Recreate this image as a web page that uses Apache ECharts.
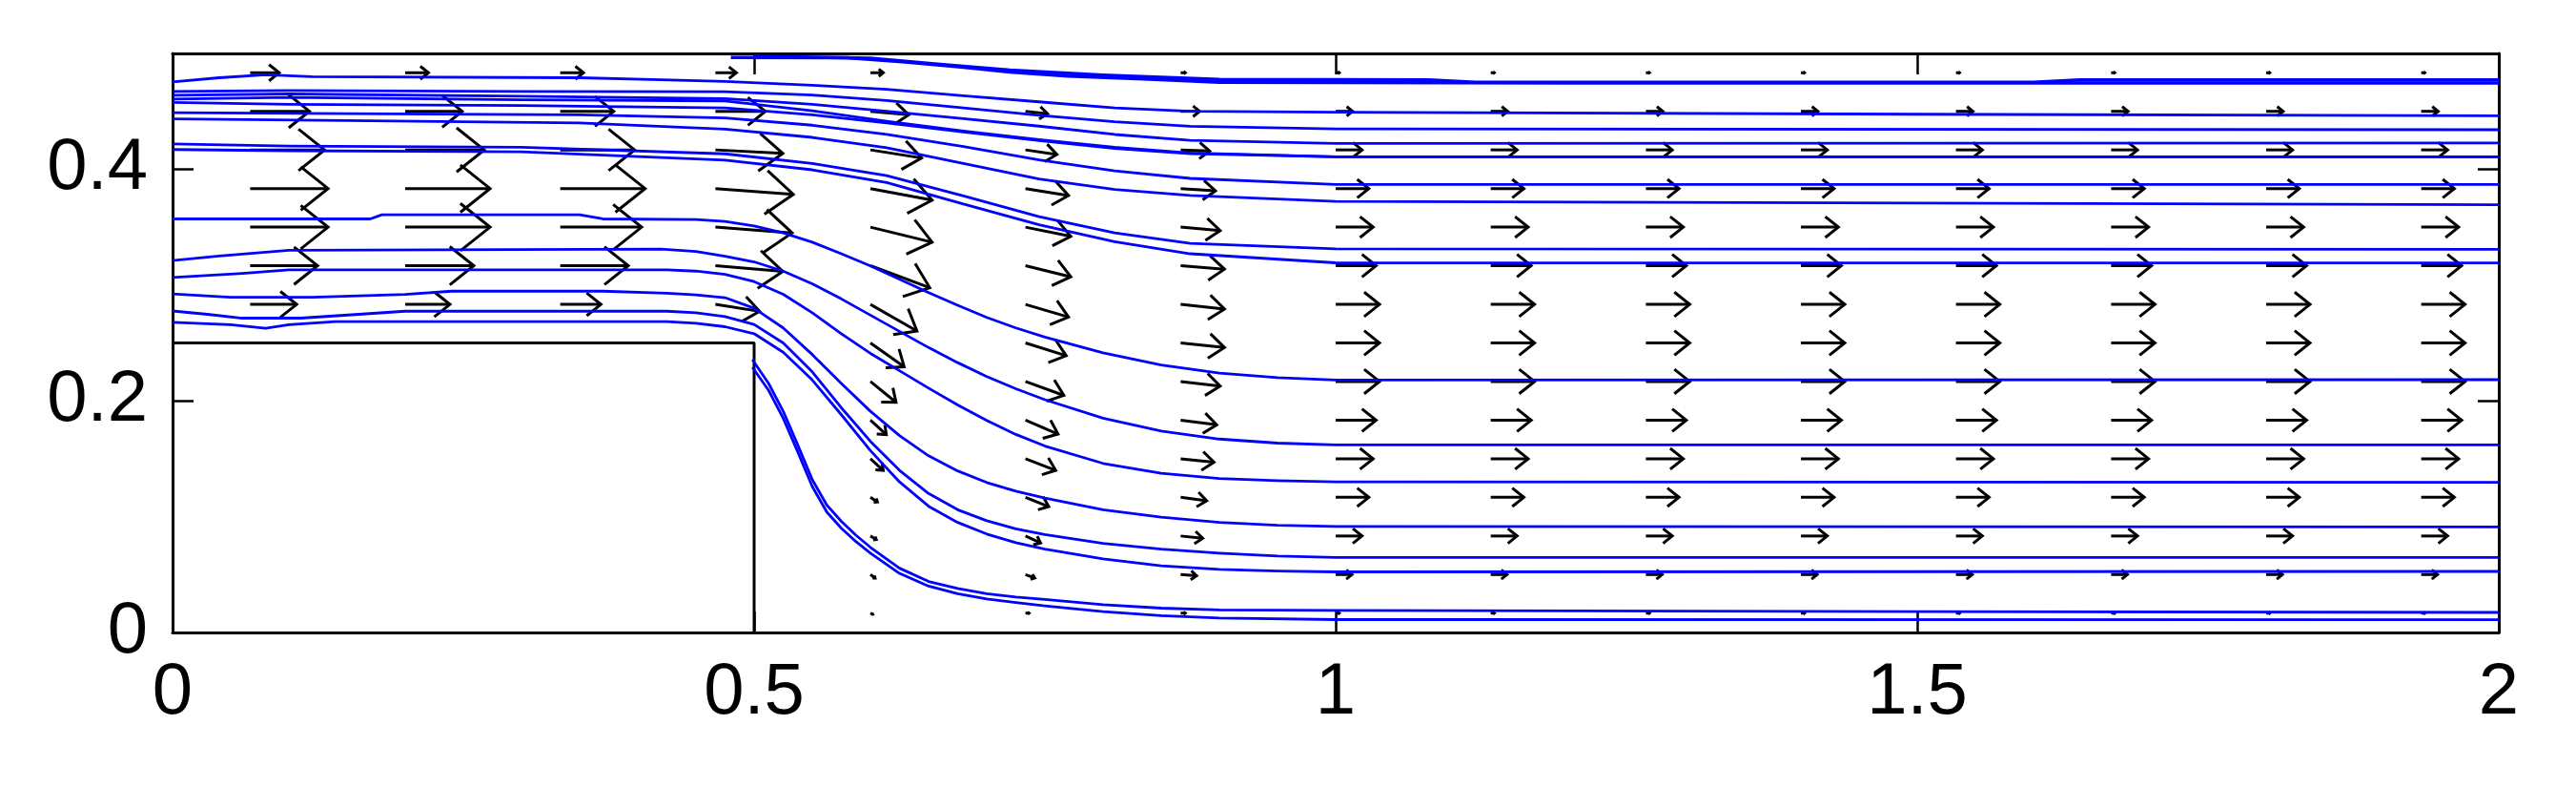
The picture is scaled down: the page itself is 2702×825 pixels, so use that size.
<!DOCTYPE html>
<html><head><meta charset="utf-8">
<script src="https://cdn.jsdelivr.net/npm/echarts@6/dist/echarts.min.js"></script>
<style>html,body{margin:0;padding:0;background:#fff}#c{width:2702px;height:825px}</style>
</head><body><div id="c"></div>
<script>
// ---- axis ticks ----
const xTicks = [0, 0.5, 1, 1.5, 2];
const yTicks = [0, 0.2, 0.4];

// ---- quiver grid ----
const xCols = [0.0667, 0.2, 0.3333, 0.4667, 0.6, 0.7333, 0.8667, 1.0, 1.1333, 1.2667, 1.4, 1.5333, 1.6667, 1.8, 1.9333];
const yRows = [0.0167, 0.05, 0.0833, 0.1167, 0.15, 0.1833, 0.2167, 0.25, 0.2833, 0.3167, 0.35, 0.3833, 0.4167, 0.45, 0.4833];
const N = null;
// u per column (bottom row -> top row)
const U = [
  [N,N,N,N,N,N,N,N, 0.040, 0.058, 0.067, 0.067, 0.064, 0.051, 0.025],
  [N,N,N,N,N,N,N,N, 0.0385, 0.059, 0.073, 0.073, 0.068, 0.049, 0.020],
  [N,N,N,N,N,N,N,N, 0.035, 0.0585, 0.070, 0.073, 0.064, 0.046, 0.020],
  [N,N,N,N,N,N,N,N, 0.038, 0.058, 0.066, 0.067, 0.058, 0.043, 0.018],
  [0.002, 0.004, 0.005, 0.006, 0.011, 0.0137, 0.022, 0.029, 0.040, 0.051, 0.053, 0.053, 0.044, 0.033, 0.011],
  [0.003, 0.008, 0.013, 0.020, 0.026, 0.028, 0.033, 0.035, 0.037, 0.039, 0.039, 0.037, 0.027, 0.019, 0.004],
  [0.004, 0.0137, 0.019, 0.0224, 0.0287, 0.031, 0.034, 0.0377, 0.0377, 0.0377, 0.034, 0.030, 0.025, 0.0164, 0.004],
  [0.003, 0.014, 0.0227, 0.0285, 0.0322, 0.0348, 0.0377, 0.0377, 0.0377, 0.0348, 0.0322, 0.0285, 0.0227, 0.0146, 0.003],
  [0.003, 0.014, 0.0227, 0.0285, 0.0322, 0.0348, 0.0377, 0.0377, 0.0377, 0.0348, 0.0322, 0.0285, 0.0227, 0.0146, 0.003],
  [0.003, 0.014, 0.0227, 0.0285, 0.0322, 0.0348, 0.0377, 0.0377, 0.0377, 0.0348, 0.0322, 0.0285, 0.0227, 0.0146, 0.003],
  [0.003, 0.014, 0.0227, 0.0285, 0.0322, 0.0348, 0.0377, 0.0377, 0.0377, 0.0348, 0.0322, 0.0285, 0.0227, 0.0146, 0.003],
  [0.003, 0.014, 0.0227, 0.0285, 0.0322, 0.0348, 0.0377, 0.0377, 0.0377, 0.0348, 0.0322, 0.0285, 0.0227, 0.0146, 0.003],
  [0.003, 0.014, 0.0227, 0.0285, 0.0322, 0.0348, 0.0377, 0.0377, 0.0377, 0.0348, 0.0322, 0.0285, 0.0227, 0.0146, 0.003],
  [0.003, 0.014, 0.0227, 0.0285, 0.0322, 0.0348, 0.0377, 0.0377, 0.0377, 0.0348, 0.0322, 0.0285, 0.0227, 0.0146, 0.003],
  [0.003, 0.014, 0.0227, 0.0285, 0.0322, 0.0348, 0.0377, 0.0377, 0.0377, 0.0348, 0.0322, 0.0285, 0.0227, 0.0146, 0.003]
];
// v per column (bottom row -> top row)
const V = [
  [N,N,N,N,N,N,N,N, 0, 0, 0, 0, 0, 0, 0],
  [N,N,N,N,N,N,N,N, 0, 0, 0, 0, 0, 0, 0],
  [N,N,N,N,N,N,N,N, 0, 0, 0, 0, 0, 0, 0],
  [N,N,N,N,N,N,N,N, -0.006, -0.005, -0.005, -0.005, -0.003, 0, 0],
  [-0.001, -0.003, -0.003, -0.004, -0.010, -0.0124, -0.018, -0.0206, -0.023, -0.019, -0.013, -0.010, -0.007, -0.003, 0],
  [0, -0.003, -0.006, -0.008, -0.010, -0.012, -0.012, -0.011, -0.011, -0.0096, -0.008, -0.006, -0.004, -0.002, 0],
  [0, -0.001, -0.002, -0.003, -0.003, -0.004, -0.004, -0.004, -0.004, -0.003, -0.003, -0.002, -0.001, 0, 0],
  [0,0,0,0,0,0,0,0,0,0,0,0,0,0,0],
  [0,0,0,0,0,0,0,0,0,0,0,0,0,0,0],
  [0,0,0,0,0,0,0,0,0,0,0,0,0,0,0],
  [0,0,0,0,0,0,0,0,0,0,0,0,0,0,0],
  [0,0,0,0,0,0,0,0,0,0,0,0,0,0,0],
  [0,0,0,0,0,0,0,0,0,0,0,0,0,0,0],
  [0,0,0,0,0,0,0,0,0,0,0,0,0,0,0],
  [0,0,0,0,0,0,0,0,0,0,0,0,0,0,0]
];

// ---- step outline ----
const stepOutline = [[0, 0.25], [0.5, 0.25], [0.5, 0]];

// ---- streamlines [x, y] ----
const sl01a = [[0.48,0.4965],[0.58,0.4962],[0.63,0.4925],[0.68,0.4880],[0.72,0.4840],[0.77,0.4805],[0.84,0.4778],[0.90,0.4750],[1.2,0.4745],[2.0,0.4745]];
const sl01b = [[0.50,0.4975],[0.60,0.4958],[0.66,0.4905],[0.72,0.4855],[0.80,0.4812],[0.90,0.4775],[1.08,0.4772],[1.12,0.4750],[1.60,0.4750],[1.64,0.4772],[2.0,0.4772]];
const sl02 = [[0,0.4754],[0.04,0.4790],[0.08,0.4815],[0.12,0.4800],[0.35,0.4790],[0.42,0.4772],[0.475,0.4758],[0.55,0.4725],[0.614,0.4690],[0.68,0.4635],[0.745,0.4582],[0.81,0.4530],[0.875,0.4500],[1.0,0.4493],[1.5,0.4475],[2.0,0.4462]];
const sl03 = [[0,0.4672],[0.1,0.4680],[0.3,0.4672],[0.475,0.4670],[0.55,0.4640],[0.614,0.4594],[0.68,0.4530],[0.745,0.4465],[0.81,0.4410],[0.875,0.4371],[1.0,0.4348],[2.0,0.4341]];
const sl04 = [[0,0.4639],[0.1,0.4650],[0.3,0.4630],[0.475,0.4610],[0.55,0.4560],[0.614,0.4500],[0.68,0.4437],[0.745,0.4372],[0.81,0.4300],[0.875,0.4250],[1.0,0.4223],[2.0,0.4226]];
const sl05 = [[0,0.4606],[0.1,0.4620],[0.3,0.4600],[0.475,0.4590],[0.55,0.4505],[0.614,0.4415],[0.68,0.4330],[0.745,0.4255],[0.81,0.4190],[0.875,0.4140],[1.0,0.4107],[2.0,0.4108]];
const sl06 = [[0,0.4577],[0.1,0.4560],[0.3,0.4550],[0.475,0.4530],[0.55,0.4470],[0.614,0.4400],[0.68,0.4322],[0.745,0.4248],[0.81,0.4180],[0.875,0.4135],[1.0,0.4107],[2.0,0.4108]];
const sl07 = [[0,0.4488],[0.15,0.4480],[0.35,0.4470],[0.475,0.4443],[0.55,0.4380],[0.614,0.4300],[0.68,0.4195],[0.745,0.4080],[0.81,0.3985],[0.875,0.3921],[1.0,0.3868],[2.0,0.3869]];
const sl08 = [[0,0.4435],[0.15,0.4420],[0.35,0.4400],[0.475,0.4347],[0.55,0.4275],[0.614,0.4185],[0.68,0.4050],[0.745,0.3915],[0.81,0.3825],[0.875,0.3773],[1.0,0.3722],[2.0,0.3694]];
const sl09 = [[0,0.4219],[0.1,0.4200],[0.3,0.4190],[0.475,0.4133],[0.55,0.4050],[0.614,0.3945],[0.68,0.3770],[0.745,0.3590],[0.81,0.3450],[0.875,0.3360],[1.0,0.3313],[2.0,0.3309]];
const sl10 = [[0,0.4170],[0.1,0.4160],[0.3,0.4150],[0.475,0.4078],[0.55,0.3995],[0.614,0.3885],[0.68,0.3700],[0.745,0.3520],[0.81,0.3375],[0.875,0.3270],[1.0,0.3192],[2.0,0.3191]];
const sl11 = [[0,0.3571],[0.17,0.3571],[0.18,0.3607],[0.35,0.3607],[0.37,0.3571],[0.45,0.3565],[0.475,0.3550],[0.5,0.3510],[0.525,0.3450],[0.55,0.3370],[0.575,0.3270],[0.6,0.3165],[0.625,0.3050],[0.65,0.2935],[0.675,0.2825],[0.7,0.2720],[0.725,0.2630],[0.75,0.2550],[0.8,0.2415],[0.85,0.2310],[0.9,0.2240],[0.95,0.2200],[1.0,0.2180],[2.0,0.2183]];
const sl12 = [[0,0.3212],[0.04,0.3250],[0.1,0.3300],[0.42,0.3310],[0.45,0.3290],[0.475,0.3249],[0.5,0.3200],[0.525,0.3120],[0.55,0.3010],[0.575,0.2880],[0.6,0.2740],[0.625,0.2600],[0.65,0.2460],[0.675,0.2330],[0.7,0.2210],[0.725,0.2105],[0.75,0.2010],[0.8,0.1850],[0.85,0.1740],[0.9,0.1670],[0.95,0.1635],[1.0,0.1620],[2.0,0.1620]];
const sl13 = [[0,0.3065],[0.06,0.3100],[0.1,0.3131],[0.425,0.3131],[0.45,0.3120],[0.475,0.3092],[0.5,0.3030],[0.525,0.2920],[0.55,0.2760],[0.575,0.2580],[0.6,0.2410],[0.625,0.2260],[0.65,0.2110],[0.675,0.1965],[0.7,0.1830],[0.725,0.1710],[0.75,0.1610],[0.8,0.1460],[0.85,0.1375],[0.9,0.1330],[0.95,0.1310],[1.0,0.1300],[2.0,0.1297]];
const sl14 = [[0,0.2923],[0.05,0.2895],[0.12,0.2895],[0.20,0.2919],[0.24,0.2947],[0.37,0.2947],[0.425,0.2930],[0.45,0.2915],[0.475,0.2891],[0.5,0.2800],[0.525,0.2630],[0.55,0.2400],[0.575,0.2150],[0.6,0.1910],[0.625,0.1700],[0.65,0.1525],[0.675,0.1395],[0.7,0.1295],[0.725,0.1220],[0.75,0.1160],[0.8,0.1060],[0.85,0.0995],[0.9,0.0950],[0.95,0.0925],[1.0,0.0915],[2.0,0.0912]];
const sl15 = [[0,0.2776],[0.03,0.2747],[0.06,0.2714],[0.11,0.2714],[0.16,0.2747],[0.2,0.2774],[0.425,0.2774],[0.45,0.2760],[0.475,0.2727],[0.5,0.2660],[0.525,0.2500],[0.55,0.2250],[0.575,0.1940],[0.6,0.1650],[0.625,0.1400],[0.65,0.1200],[0.675,0.1060],[0.7,0.0965],[0.725,0.0895],[0.75,0.0845],[0.8,0.0770],[0.85,0.0720],[0.9,0.0685],[0.95,0.0660],[1.0,0.0648],[2.0,0.0648]];
const sl16 = [[0,0.2678],[0.05,0.2658],[0.08,0.2626],[0.1,0.2658],[0.14,0.2685],[0.425,0.2685],[0.45,0.2670],[0.475,0.2640],[0.5,0.2580],[0.525,0.2420],[0.55,0.2180],[0.575,0.1880],[0.6,0.1570],[0.625,0.1300],[0.65,0.1090],[0.675,0.0950],[0.7,0.0850],[0.725,0.0775],[0.75,0.0720],[0.8,0.0635],[0.85,0.0575],[0.9,0.0545],[0.95,0.0530],[1.0,0.0523],[2.0,0.0527]];
const sl17 = [[0.4985,0.2356],[0.5125,0.2150],[0.525,0.1910],[0.5375,0.1620],[0.55,0.1320],[0.5625,0.1100],[0.575,0.0960],[0.5875,0.0840],[0.6,0.0735],[0.625,0.0555],[0.65,0.0440],[0.675,0.0380],[0.7,0.0335],[0.725,0.0305],[0.75,0.0285],[0.8,0.0240],[0.85,0.0210],[0.9,0.0195],[1.0,0.0190],[1.5,0.0180],[2.0,0.0173]];
const sl18 = [[0.4985,0.2290],[0.5125,0.2090],[0.525,0.1850],[0.5375,0.1560],[0.55,0.1260],[0.5625,0.1040],[0.575,0.0900],[0.5875,0.0785],[0.6,0.0685],[0.625,0.0510],[0.65,0.0400],[0.675,0.0335],[0.7,0.0290],[0.725,0.0258],[0.75,0.0230],[0.8,0.0180],[0.85,0.0145],[0.9,0.0125],[1.0,0.0111],[2.0,0.0110]];
const streamlines = [sl02, sl03, sl04, sl05, sl06, sl07, sl08, sl09, sl10, sl11, sl12, sl13, sl14, sl15, sl16, sl17, sl18];
const thickLines = [sl01a, sl01b];

// ---- build ----
const arrowData = [];
xCols.forEach((x, i) => {
  yRows.forEach((y, j) => {
    if (U[i][j] !== null) arrowData.push([x, y, U[i][j], V[i][j]]);
  });
});

const chart = echarts.init(document.getElementById('c'), null, {renderer: 'canvas'});
const FONT = "'Liberation Sans', Arial, sans-serif";
const axisCommon = {
  type: 'value',
  axisLine: {show: true, onZero: false, lineStyle: {color: '#000', width: 3}},
  axisTick: {show: true, inside: true, length: 22, lineStyle: {color: '#000', width: 2.5}},
  splitLine: {show: false}
};
const ALPHA = 0.35, BETA = 0.8;
const series = [{
  type: 'custom',
  coordinateSystem: 'cartesian2d',
  data: arrowData,
  encode: {x: 0, y: 1},
  clip: false,
  z: 2,
  renderItem: function (params, api) {
    const x = api.value(0), y = api.value(1), u = api.value(2), v = api.value(3);
    const p0 = api.coord([x, y]);
    const p1 = api.coord([x + u, y + v]);
    const b1 = api.coord([x + u - ALPHA * (u + BETA * v), y + v - ALPHA * (v - BETA * u)]);
    const b2 = api.coord([x + u - ALPHA * (u - BETA * v), y + v - ALPHA * (v + BETA * u)]);
    const st = {stroke: '#000', lineWidth: 3, fill: null};
    return {type: 'group', children: [
      {type: 'polyline', shape: {points: [p0, p1]}, style: st},
      {type: 'polyline', shape: {points: [b1, p1, b2]}, style: st}
    ]};
  }
}, {
  type: 'line', data: stepOutline, showSymbol: false, z: 3,
  lineStyle: {color: '#000', width: 3}
}];
thickLines.forEach(s => series.push({
  type: 'line', data: s, showSymbol: false, smooth: false, z: 4,
  lineStyle: {color: '#0000ff', width: 3.5, join: 'round'}
}));
streamlines.forEach(s => series.push({
  type: 'line', data: s, showSymbol: false, smooth: false, z: 4,
  lineStyle: {color: '#0000ff', width: 2.8, join: 'round'}
}));

chart.setOption({
  animation: false,
  backgroundColor: '#fff',
  grid: {left: 181, right: 81, top: 56, bottom: 162, show: false},
  xAxis: [
    Object.assign({}, axisCommon, {position: 'bottom', min: xTicks[0], max: xTicks[xTicks.length - 1], interval: 0.5,
      axisLabel: {margin: 26, fontSize: 76, color: '#000', fontFamily: FONT,
        formatter: v => String(+v.toFixed(1))}}),
    Object.assign({}, axisCommon, {position: 'top', min: 0, max: 2, interval: 0.5, axisLabel: {show: false}})
  ],
  yAxis: [
    Object.assign({}, axisCommon, {position: 'left', min: yTicks[0], max: 0.5, interval: 0.2,
      axisLabel: {margin: 26, fontSize: 76, color: '#000', fontFamily: FONT,
        formatter: v => (yTicks.some(t => Math.abs(t - v) < 1e-9) ? String(+v.toFixed(1)) : '')}}),
    Object.assign({}, axisCommon, {position: 'right', min: 0, max: 0.5, interval: 0.2, axisLabel: {show: false}})
  ],
  series: series
});
</script></body></html>
